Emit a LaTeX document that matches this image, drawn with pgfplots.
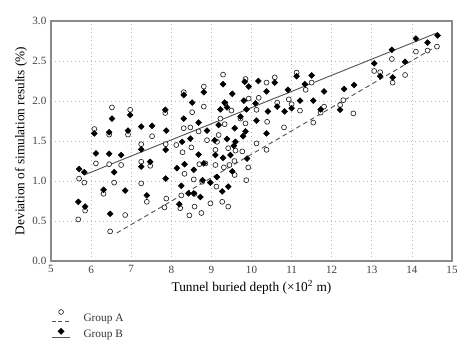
\documentclass[border=0pt]{standalone}
\usepackage{fontspec}
\setmainfont{Liberation Serif}
\usepackage{pgfplots}
\pgfplotsset{compat=1.18}
\definecolor{axgray}{HTML}{8A8A8A}
\definecolor{linegray}{HTML}{555555}
\definecolor{gridgray}{HTML}{B8B8B8}
\begin{document}
\begin{tikzpicture}
\useasboundingbox (-38.25pt,-72pt) rectangle (317.25pt,195.75pt);
\begin{axis}[
  scale only axis, width=300.75pt, height=180pt,
  xmin=5, xmax=15, ymin=0, ymax=3,
  xtick={5,6,7,8,9,10,11,12,13,14,15},
  ytick={0,0.5,1,1.5,2,2.5,3},
  yticklabel style={/pgf/number format/.cd, fixed, fixed zerofill, precision=1},
  /pgf/number format/assume math mode=true,
  tick label style={font=\fontsize{8.3}{9}\selectfont, text=black!75},
  major tick length=0pt,
  axis line style={axgray, line width=0.8pt},
  grid=major,
  major grid style={gridgray, line width=0.6pt, dash pattern=on 0.6pt off 2.4pt},
  xlabel={Tunnel buried depth (×10\textsuperscript{2} m)},
  ylabel={Deviation of simulation results (\%)},
  label style={font=\fontsize{8.5}{10}\selectfont, text=black!80},
  every axis x label/.style={at={([yshift=-22.5pt]axis description cs:0.5,0)}, anchor=base},
  every axis y label/.style={at={([xshift=-22.5pt]axis description cs:0,0.5)}, anchor=center, rotate=90},
  legend style={at={([yshift=-36pt]axis description cs:0,0)}, anchor=north west,
    draw=none, fill=none, inner sep=0pt, row sep=2pt, column sep=8pt,
    font=\fontsize{8.5}{10}\selectfont, text=black!80,
    nodes={inner sep=1.5pt}},
  legend cell align=left,
  clip=false,
]
% Group A circles
\addplot[only marks, forget plot, mark=*, mark size=1.85pt,
  mark options={draw=black!85, fill=white, line width=0.5pt}] table[row sep=\\] {
x y\\
5.68 0.52\\ 5.70 1.03\\ 5.83 0.98\\ 5.85 0.63\\ 6.08 1.65\\ 6.12 1.22\\
6.31 0.84\\ 6.45 1.58\\ 6.45 1.21\\ 6.475 0.37\\ 6.52 1.92\\ 6.575 0.98\\
6.75 1.20\\ 6.85 0.575\\ 6.92 1.58\\ 6.975 1.89\\ 7.25 1.46\\ 7.25 1.24\\
7.25 0.97\\ 7.39 0.74\\ 7.475 1.19\\ 7.52 1.56\\ 7.83 0.67\\ 7.85 1.85\\
7.86 1.46\\ 7.875 0.78\\ 8.125 1.45\\ 8.225 0.66\\ 8.25 0.82\\ 8.28 1.36\\
8.31 2.11\\ 8.31 1.66\\ 8.33 1.09\\ 8.45 0.57\\ 8.475 1.67\\ 8.50 1.42\\
8.52 1.86\\ 8.56 1.02\\ 8.58 0.84\\ 8.58 0.68\\ 8.68 1.62\\ 8.70 1.21\\
8.75 0.60\\ 8.77 0.99\\ 8.81 2.18\\ 8.81 1.93\\ 8.85 1.22\\ 8.89 1.51\\
8.975 0.72\\ 9.10 1.39\\ 9.10 1.20\\ 9.125 0.93\\ 9.14 1.49\\ 9.18 1.575\\
9.225 1.78\\ 9.27 0.74\\ 9.29 2.33\\ 9.31 1.17\\ 9.33 1.71\\ 9.35 1.97\\
9.42 1.41\\ 9.42 0.68\\ 9.45 1.20\\ 9.50 1.88\\ 9.575 1.25\\ 9.58 1.075\\
9.60 1.38\\ 9.725 1.78\\ 9.77 1.37\\ 9.85 2.275\\ 9.85 1.72\\ 9.87 1.01\\
9.92 1.17\\ 9.93 2.03\\ 10.125 1.89\\ 10.125 1.47\\ 10.18 2.04\\ 10.375 2.23\\
10.375 1.39\\ 10.39 1.74\\ 10.58 2.295\\ 10.64 1.98\\ 10.81 1.67\\ 10.93 2.02\\
11.00 1.96\\ 11.125 2.355\\ 11.21 1.88\\ 11.35 2.14\\ 11.50 2.23\\ 11.54 1.73\\
11.725 1.855\\ 11.81 1.93\\ 12.21 1.95\\ 12.29 2.01\\ 12.54 1.845\\ 13.06 2.375\\
13.21 2.36\\ 13.50 2.525\\ 13.52 2.23\\ 13.83 2.325\\ 14.10 2.617\\ 14.39 2.63\\
14.625 2.68\\
};
% Group B diamonds
\addplot[only marks, forget plot, mark=square*, mark size=1.55pt,
  mark options={draw=black, fill=black, rotate=45}] table[row sep=\\] {
x y\\
5.68 0.74\\ 5.70 1.15\\ 5.83 1.11\\ 5.85 0.68\\ 6.08 1.595\\ 6.12 1.345\\
6.31 0.89\\ 6.45 1.61\\ 6.45 1.34\\ 6.475 0.59\\ 6.52 1.78\\ 6.575 1.11\\
6.75 1.325\\ 6.85 0.88\\ 6.92 1.63\\ 6.975 1.825\\ 7.25 1.68\\ 7.25 1.395\\
7.25 1.18\\ 7.39 0.82\\ 7.475 1.24\\ 7.52 1.69\\ 7.85 1.89\\ 7.86 1.39\\
7.86 1.03\\ 7.875 1.63\\ 8.14 1.16\\ 8.20 0.71\\ 8.25 0.94\\ 8.27 1.49\\
8.31 2.075\\ 8.31 1.78\\ 8.33 1.21\\ 8.43 0.845\\ 8.475 1.53\\ 8.52 1.98\\
8.56 1.14\\ 8.56 0.845\\ 8.68 1.73\\ 8.68 1.33\\ 8.725 0.80\\ 8.78 1.01\\
8.81 2.11\\ 8.81 1.22\\ 8.89 1.63\\ 8.975 0.98\\ 9.08 1.51\\ 9.10 1.325\\
9.14 1.05\\ 9.18 1.70\\ 9.225 1.895\\ 9.27 0.87\\ 9.29 2.21\\ 9.29 1.29\\
9.33 1.98\\ 9.39 1.92\\ 9.39 1.525\\ 9.42 0.93\\ 9.475 1.325\\ 9.52 2.09\\
9.52 1.12\\ 9.56 1.44\\ 9.58 1.66\\ 9.60 1.49\\ 9.725 1.805\\ 9.79 1.56\\
9.81 2.005\\ 9.83 2.24\\ 9.85 1.62\\ 9.875 1.895\\ 9.89 1.28\\ 9.93 2.18\\
10.10 1.97\\ 10.125 1.755\\ 10.17 2.25\\ 10.375 2.12\\ 10.375 1.595\\ 10.41 1.87\\
10.58 2.23\\ 10.64 1.93\\ 10.825 1.87\\ 10.91 2.14\\ 11.00 1.91\\ 11.125 2.31\\
11.21 2.005\\ 11.33 2.21\\ 11.50 2.32\\ 11.54 2.005\\ 11.725 1.895\\ 11.81 2.12\\
12.21 1.89\\ 12.31 2.15\\ 12.56 2.20\\ 13.06 2.47\\ 13.21 2.31\\ 13.50 2.64\\
13.52 2.295\\ 13.83 2.49\\ 14.10 2.78\\ 14.39 2.73\\ 14.64 2.82\\
};
% Fit lines with legend
\addplot[linegray, line width=0.7pt, dash pattern=on 3.5pt off 2.5pt,
  legend image code/.code={
    \draw[linegray, line width=0.7pt, dash pattern=on 3pt off 2pt] (0pt,-2pt) -- (14pt,-2pt);
    \draw[solid, black!85, fill=white, line width=0.5pt] (7pt,5pt) circle (1.8pt);
  }] coordinates {(6.64,0.35) (14.6,2.68)};
\addlegendentry{Group A}
\addplot[linegray, line width=0.7pt,
  legend image code/.code={
    \draw[solid, linegray, line width=0.7pt] (0pt,-2pt) -- (14pt,-2pt);
    \fill[black] (7pt,0.7pt) -- (9.1pt,2.8pt) -- (7pt,4.9pt) -- (4.9pt,2.8pt) -- cycle;
  }] coordinates {(5.85,1.08) (14.62,2.85)};
\addlegendentry{Group B}
\end{axis}
\end{tikzpicture}
\end{document}
